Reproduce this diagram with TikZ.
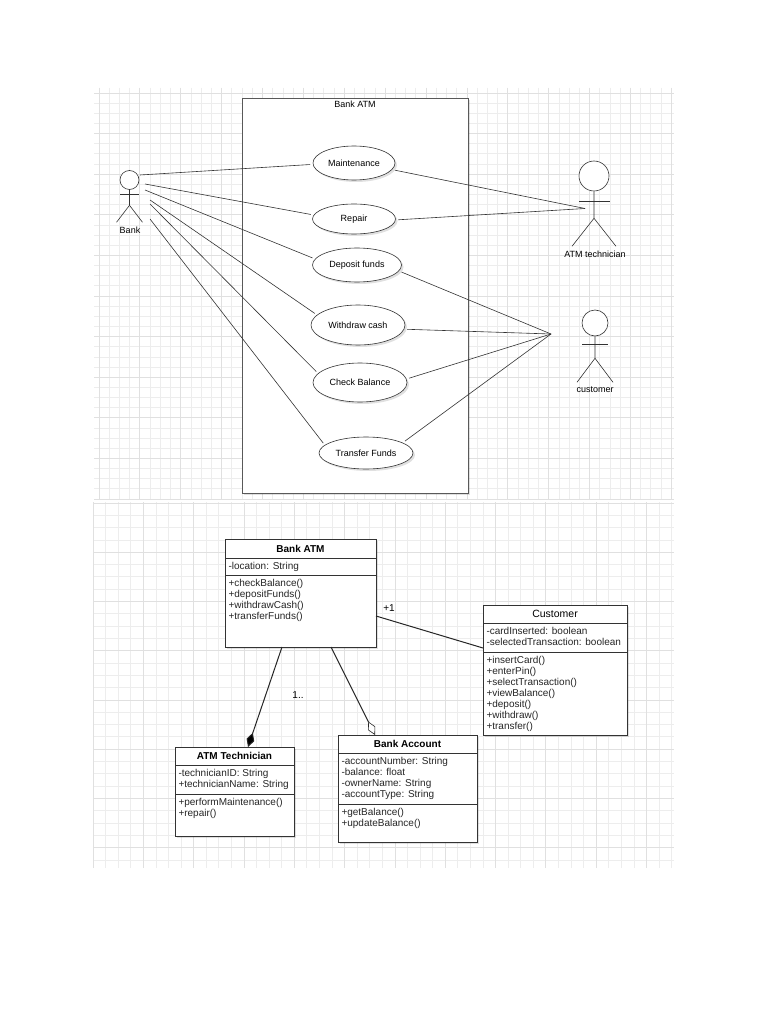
\documentclass[tikz,border=0pt]{standalone}
\usepackage{fontspec}
\setmainfont{Liberation Sans}
\usetikzlibrary{arrows.meta}
\usetikzlibrary{positioning}
\usetikzlibrary{shapes.geometric}
\usetikzlibrary{shadows}

\definecolor{gridminor}{gray}{0.93}
\definecolor{gridmajor}{gray}{0.88}
\definecolor{inkline}{gray}{0.2}

\newcommand{\umltext}[3]{\parbox[c][#2][t]{#1}{\vspace*{2.2pt}\raggedright #3}}

\tikzset{
  softshadow/.style={drop shadow={shadow xshift=2pt,shadow yshift=-2pt,opacity=.12,fill=black}},
  minorline/.style={draw=gridminor,line width=0.8pt},
  majorline/.style={draw=gridmajor,line width=0.8pt},
  usecase/.style={ellipse,draw=inkline,fill=white,line width=0.6pt,inner sep=0pt,outer sep=3pt,softshadow,font=\fontsize{9}{10}\selectfont},
  actorhead/.style={circle,draw=inkline,line width=0.6pt,inner sep=0pt,fill=white},
  actorname/.style={font=\fontsize{9}{10}\selectfont,inner sep=0pt},
  assoc/.style={draw=inkline,line width=0.6pt},
  umlpart/.style={draw=black!80,fill=white,line width=0.8pt,inner xsep=3.5pt,inner ysep=2pt,outer sep=0pt,anchor=north west,softshadow,text=black!85,font=\fontsize{10}{11}\selectfont},
  umlname/.style={umlpart,text=black,align=center,inner sep=0pt,anchor=north west},
  umllink/.style={draw=black!85,line width=1pt}
}

\begin{document}
\begin{tikzpicture}[x=1pt,y=-1pt]

\useasboundingbox (0,0) rectangle (768,1024);
\fill[white] (0,0) rectangle (768,1024);

% upper sheet
\foreach \i [evaluate=\i as \gx using 99+10.22*\i] in {0,...,56}
  \draw[minorline] (\gx,88) -- (\gx,499);
\foreach \i [evaluate=\i as \gy using 93+10.15*\i] in {0,...,40}
  \draw[minorline] (94,\gy) -- (674,\gy);
\foreach \i [evaluate=\i as \gx using 99+10.22*\i] in {0,4,...,56}
  \draw[majorline] (\gx,88) -- (\gx,499);
\foreach \i [evaluate=\i as \gy using 93+10.15*\i] in {0,4,...,40}
  \draw[majorline] (94,\gy) -- (674,\gy);

% lower sheet
\foreach \i [evaluate=\i as \gx using 93+12.58*\i] in {0,...,46}
  \draw[minorline] (\gx,502) -- (\gx,868);
\foreach \i [evaluate=\i as \gy using 503+12.31*\i] in {0,...,29}
  \draw[minorline] (93,\gy) -- (674,\gy);
\foreach \i [evaluate=\i as \gx using 93+12.58*\i] in {0,4,...,46}
  \draw[majorline] (\gx,502) -- (\gx,868);
\foreach \i [evaluate=\i as \gy using 503+12.31*\i] in {0,4,...,29}
  \draw[majorline] (93,\gy) -- (674,\gy);

% use case diagram
\node[draw=black!65,fill=white,line width=0.9pt,minimum width=226pt,minimum height=395pt,inner sep=0pt,softshadow] (system) at (355,295.5) {};
\node[actorname] (systemName) at (355,104) {Bank ATM};

\node[usecase,minimum width=82pt,minimum height=34pt] (maintenance) at (354,163) {Maintenance};
\node[usecase,minimum width=83pt,minimum height=30pt] (repair) at (354,219) {Repair};
\node[usecase,minimum width=89pt,minimum height=34pt] (deposit) at (357,265) {Deposit funds};
\node[usecase,minimum width=94pt,minimum height=40pt] (withdraw) at (358,325) {Withdraw cash};
\node[usecase,minimum width=94pt,minimum height=39pt] (check) at (360,382.5) {Check Balance};
\node[usecase,minimum width=94pt,minimum height=32pt] (transfer) at (366,453) {Transfer Funds};

% actors
\node[actorhead,minimum size=19pt] (bankHead) at (129.5,180) {};
\draw[assoc] (bankHead.south) -- ++(0,15.5) coordinate (bankHip) -- ++(-13,17);
\draw[assoc] (bankHip) -- ++(13,17);
\draw[assoc] (120,194) -- (139,194);
\node[actorname] (bankName) at (130,230) {Bank};

\node[actorhead,minimum size=30pt] (techHead) at (594,176) {};
\draw[assoc] (techHead.south) -- ++(0,27) coordinate (techHip) -- ++(-22,28);
\draw[assoc] (techHip) -- ++(22,28);
\draw[assoc] (579,201) -- (610,201);
\node[actorname] (techName) at (595,254.5) {ATM technician};

\node[actorhead,minimum size=26pt] (custHead) at (595,323) {};
\draw[assoc] (custHead.south) -- ++(0,22) coordinate (custHip) -- ++(-18,24);
\draw[assoc] (custHip) -- ++(18,24);
\draw[assoc] (582,344) -- (608,344);
\node[actorname] (custName) at (595,390) {customer};

% connector ends beside the actors
\coordinate (bankA) at (140,175);
\coordinate (bankB) at (145,184);
\coordinate (bankC) at (145,190);
\coordinate (bankD) at (150,200);
\coordinate (bankE) at (150,204);
\coordinate (bankF) at (150,219);
\coordinate (techEnd) at (585,208.5);
\coordinate (custEnd) at (551,334);

\draw[assoc] (bankA) -- (maintenance.182);
\draw[assoc] (bankB) -- (repair.174);
\draw[assoc] (bankC) -- (deposit.171);
\draw[assoc] (bankD) -- (withdraw.165);
\draw[assoc] (bankE) -- (check.166);
\draw[assoc] (bankF) -- (transfer.167);

\draw[assoc] (maintenance.-10) -- (techEnd);
\draw[assoc] (repair.-1) -- (techEnd);
\draw[assoc] (deposit.-9) -- (custEnd);
\draw[assoc] (withdraw.-5) -- (custEnd);
\draw[assoc] (check.5) -- (custEnd);
\draw[assoc] (transfer.17) -- (custEnd);

% class diagram
\node[umlname,minimum width=151pt,minimum height=19pt,font=\fontsize{10}{11}\selectfont\bfseries] (atmName) at (225,539) {Bank ATM};
\node[umlpart,below=0pt of atmName.south west,anchor=north west] (atmAttr) {\umltext{144pt}{13pt}{-location: String}};
\node[umlpart,below=0pt of atmAttr.south west,anchor=north west] (atmMeth) {\umltext{144pt}{68pt}{+checkBalance()\\+depositFunds()\\+withdrawCash()\\+transferFunds()}};

\node[umlname,minimum width=119pt,minimum height=18pt,font=\fontsize{10}{11}\selectfont\bfseries] (techClass) at (175,747) {ATM Technician};
\node[umlpart,below=0pt of techClass.south west,anchor=north west] (techAttr) {\umltext{112pt}{25pt}{-technicianID: String\\+technicianName: String}};
\node[umlpart,below=0pt of techAttr.south west,anchor=north west] (techMeth) {\umltext{112pt}{38pt}{+performMaintenance()\\+repair()}};

\node[umlname,minimum width=139pt,minimum height=18pt,font=\fontsize{10}{11}\selectfont\bfseries] (acctClass) at (338,735) {Bank Account};
\node[umlpart,below=0pt of acctClass.south west,anchor=north west] (acctAttr) {\umltext{132pt}{47pt}{-accountNumber: String\\-balance: float\\-ownerName: String\\-accountType: String}};
\node[umlpart,below=0pt of acctAttr.south west,anchor=north west] (acctMeth) {\umltext{132pt}{34pt}{+getBalance()\\+updateBalance()}};

\node[umlname,minimum width=144pt,minimum height=18pt,font=\fontsize{10.5}{11}\selectfont] (custClass) at (483,605) {Customer};
\node[umlpart,below=0pt of custClass.south west,anchor=north west] (custAttr) {\umltext{137pt}{25pt}{-cardInserted: boolean\\-selectedTransaction: boolean}};
\node[umlpart,below=0pt of custAttr.south west,anchor=north west] (custMeth) {\umltext{137pt}{79pt}{+insertCard()\\+enterPin()\\+selectTransaction()\\+viewBalance()\\+deposit()\\+withdraw()\\+transfer()}};

\draw[umllink,-{Diamond[length=15pt,width=8pt,fill=black]}] ([xshift=57pt]atmMeth.south west) -- ([xshift=73pt]techClass.north west);
\draw[umllink,-{Diamond[open,length=15pt,width=8pt,fill=white,line width=0.6pt]}] ([xshift=106pt]atmMeth.south west) -- ([xshift=37pt]acctClass.north west);
\draw[umllink] ([yshift=-5pt]atmMeth.east) -- ([yshift=4pt]custAttr.south west);

\node[inner sep=0pt,font=\fontsize{10}{11}\selectfont] (oneStar) at (298,695) {1..};
\node[inner sep=0pt,font=\fontsize{10}{11}\selectfont] (plusOne) at (389,608) {+1};

\end{tikzpicture}
\end{document}
